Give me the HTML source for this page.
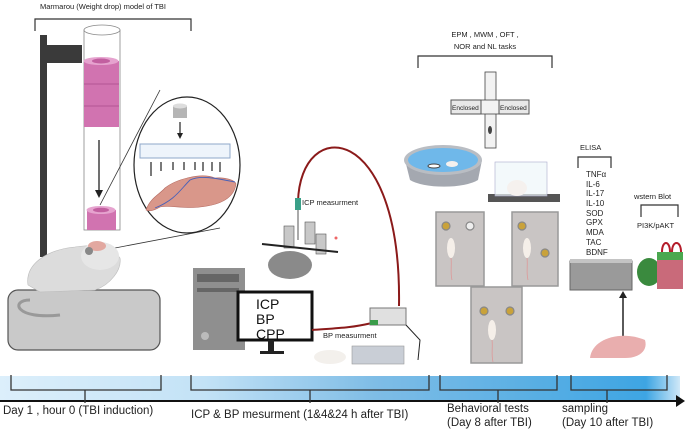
<!DOCTYPE html>
<html><head><meta charset="utf-8"><style>
html,body{margin:0;padding:0;background:#fff;width:685px;height:432px;overflow:hidden}
svg{display:block;font-family:"Liberation Sans",sans-serif}
</style></head><body>
<svg width="685" height="432" viewBox="0 0 685 432" xmlns="http://www.w3.org/2000/svg">
<defs>
<linearGradient id="band" x1="0" x2="1" y1="0" y2="0">
<stop offset="0" stop-color="#dceffb"/><stop offset="0.3" stop-color="#c3e2f6"/><stop offset="0.55" stop-color="#7fbde6"/><stop offset="0.95" stop-color="#3ea5e3"/><stop offset="1" stop-color="#cfe8f8"/>
</linearGradient>
</defs>
<rect x="0" y="376" width="680" height="25" fill="url(#band)"/>
<line x1="0" y1="401" x2="678" y2="401" stroke="#111" stroke-width="2"/>
<polygon points="676,395 685,401 676,407" fill="#111"/>
<g fill="none" stroke="#333" stroke-width="1.3">
<path d="M11,375 V390 H161 V375 M85,390 V403"/>
<path d="M191,375 V390 H429 V375 M310,390 V403"/>
<path d="M440,375 V390 H557 V375 M498,390 V403"/>
<path d="M571,375 V390 H667 V375 M607,390 V403"/>
</g>
<g font-size="11.5" fill="#222">
<text x="3" y="414">Day 1 , hour 0 (TBI induction)</text>
<text x="191" y="418">ICP &amp; BP mesurment (1&amp;4&amp;24 h after TBI)</text>
<text x="447" y="412">Behavioral tests</text>
<text x="447" y="426">(Day 8 after TBI)</text>
<text x="562" y="412">sampling</text>
<text x="562" y="426">(Day 10 after TBI)</text>
</g>
<text x="40" y="9" font-size="7.5" fill="#222">Marmarou (Weight drop) model of TBI</text>
<path d="M35,31 V19 H191 V31" fill="none" stroke="#333" stroke-width="1.2"/>
<rect x="40" y="35" width="7" height="222" fill="#3a3a3a"/>
<rect x="46" y="45" width="36" height="18" fill="#3a3a3a"/>
<rect x="84" y="30" width="36" height="200" fill="#fff" stroke="#888" stroke-width="0.8"/>
<ellipse cx="102" cy="30" rx="18" ry="5" fill="#fff" stroke="#888" stroke-width="0.8"/>
<rect x="84" y="61" width="35" height="66" fill="#d173b0"/>
<ellipse cx="101" cy="61" rx="17.5" ry="4" fill="#e6a3cf"/>
<ellipse cx="101" cy="61" rx="9" ry="2.5" fill="#c25fa0"/>
<line x1="84" y1="84" x2="119" y2="84" stroke="#b45593"/><line x1="84" y1="106" x2="119" y2="106" stroke="#b45593"/>
<line x1="99" y1="140" x2="99" y2="192" stroke="#222" stroke-width="1.3"/>
<polygon points="95,190 99,198 103,190" fill="#222"/>
<rect x="87" y="210" width="29" height="20" fill="#d173b0"/>
<ellipse cx="101" cy="210" rx="14.5" ry="4" fill="#e6a3cf"/><ellipse cx="101" cy="210" rx="8" ry="2.3" fill="#c25fa0"/>
<line x1="100" y1="205" x2="160" y2="90" stroke="#333" stroke-width="0.8"/>
<line x1="115" y1="248" x2="220" y2="228" stroke="#333" stroke-width="0.8"/>
<ellipse cx="187" cy="165" rx="53" ry="68" fill="#fff" stroke="#222" stroke-width="1.2"/>
<rect x="173" y="106" width="14" height="12" fill="#b5b5b5"/><ellipse cx="180" cy="106" rx="7" ry="2.5" fill="#ddd"/>
<line x1="180" y1="122" x2="180" y2="134" stroke="#222" stroke-width="1.2"/><polygon points="177,133 180,139 183,133" fill="#222"/>
<rect x="140" y="144" width="90" height="14" fill="#eef4fb" stroke="#8fa7c9"/>
<g stroke="#222" stroke-width="1.2" fill="#222">
<line x1="151" y1="162" x2="151" y2="176"/><line x1="161" y1="162" x2="161" y2="171"/><line x1="173" y1="162" x2="173" y2="170"/><line x1="184" y1="162" x2="184" y2="170"/><line x1="195" y1="162" x2="195" y2="170"/><line x1="203" y1="162" x2="203" y2="171"/><line x1="212" y1="162" x2="212" y2="171"/><line x1="220" y1="162" x2="220" y2="172"/>
</g>
<path d="M146,210 C150,198 160,194 165,188 C175,180 200,172 215,178 C225,177 235,180 236,184 C234,198 220,205 200,207 C185,209 170,205 160,207 C155,210 150,212 146,210Z" fill="#d9978a" stroke="#b46a61" stroke-width="0.6"/>
<path d="M155,208 C175,200 180,190 190,180 C200,175 215,178 235,182" fill="none" stroke="#4961b8" stroke-width="0.9"/>
<rect x="8" y="290" width="152" height="60" rx="10" fill="#c9c9c9" stroke="#555" stroke-width="1.2"/>
<path d="M30,300 C10,300 15,320 60,315" fill="none" stroke="#999" stroke-width="3"/>
<path d="M28,285 C25,265 45,250 75,247 C95,244 110,245 120,258 C122,270 110,285 95,290 L40,292Z" fill="#dcdcdc" stroke="#bbb" stroke-width="0.6"/>
<ellipse cx="100" cy="256" rx="19" ry="14" fill="#e6e6e6"/>
<ellipse cx="97" cy="246" rx="9" ry="5" fill="#e2a8a0"/>
<circle cx="89" cy="251" r="4" fill="#888"/>
<rect x="193" y="268" width="52" height="82" fill="#8f8f8f"/><rect x="197" y="274" width="42" height="8" fill="#666"/><rect x="197" y="288" width="42" height="4" fill="#666"/>
<circle cx="205" cy="336" r="4" fill="#bbb"/>
<rect x="238" y="292" width="74" height="48" fill="#fff" stroke="#111" stroke-width="3"/>
<rect x="268" y="340" width="6" height="12" fill="#222"/><rect x="260" y="351" width="24" height="3" fill="#222"/>
<g font-size="14" fill="#111"><text x="256" y="309">ICP</text><text x="256" y="324">BP</text><text x="256" y="339">CPP</text></g>
<path d="M312,330 C340,328 350,328 372,323" fill="none" stroke="#8b1a1a" stroke-width="2"/>
<text x="323" y="338" font-size="7.5" fill="#222">BP measurment</text>
<rect x="370" y="308" width="36" height="17" fill="#e0e0e0" stroke="#777"/><rect x="370" y="320" width="8" height="5" fill="#3a9c4a"/>
<ellipse cx="330" cy="357" rx="16" ry="7" fill="#f3f0ec"/>
<rect x="352" y="346" width="52" height="18" fill="#c9ced6" stroke="#999" stroke-width="0.6"/>
<path d="M406,325 L420,340 L418,360" fill="none" stroke="#222" stroke-width="1"/>
<path d="M298,202 C300,115 402,120 399,306" fill="none" stroke="#8b1a1a" stroke-width="2"/>
<rect x="295" y="198" width="6" height="12" fill="#3aa088"/><line x1="298" y1="210" x2="298" y2="240" stroke="#555"/>
<text x="302" y="205" font-size="7.5" fill="#222">ICP measurment</text>
<circle cx="336" cy="238" r="1.5" fill="#e66"/>
<g fill="#c8c8c8" stroke="#555" stroke-width="0.6">
<rect x="284" y="226" width="10" height="22"/><rect x="305" y="222" width="10" height="22"/><rect x="316" y="234" width="10" height="20"/>
</g>
<line x1="262" y1="244" x2="338" y2="252" stroke="#222" stroke-width="2"/>
<ellipse cx="290" cy="265" rx="22" ry="14" fill="#8a8a8a"/>
<text x="485" y="37" font-size="7.5" fill="#222" text-anchor="middle">EPM , MWM , OFT ,</text>
<text x="485" y="49" font-size="7.5" fill="#222" text-anchor="middle">NOR and NL tasks</text>
<path d="M418,68 V56 H552 V68" fill="none" stroke="#333" stroke-width="1.2"/>
<rect x="485" y="72" width="11" height="76" fill="#f2f2f2" stroke="#444" stroke-width="0.8"/>
<rect x="451" y="100" width="78" height="14" fill="#f2f2f2" stroke="#444" stroke-width="0.8"/>
<rect x="451" y="100" width="30" height="14" fill="#e8e8e8" stroke="#555"/><rect x="499" y="100" width="30" height="14" fill="#e8e8e8" stroke="#555"/>
<text x="452" y="110" font-size="6.5" fill="#222">Enclosed</text><text x="500" y="110" font-size="6.5" fill="#222">Enclosed</text>
<ellipse cx="490" cy="130" rx="2" ry="4" fill="#444"/>
<path d="M405,160 L410,180 A38,12 0 0 0 478,180 L482,160Z" fill="#a4a8b0"/>
<ellipse cx="443" cy="160" rx="39" ry="15" fill="#b9bdc3"/>
<ellipse cx="443" cy="160" rx="35" ry="12" fill="#6fb8ea"/>
<ellipse cx="434" cy="166" rx="6" ry="2" fill="#fff" stroke="#444"/>
<ellipse cx="452" cy="164" rx="6" ry="3" fill="#f5f1ee"/>
<path d="M488,194 L560,194 L560,202 L488,202Z" fill="#555"/>
<rect x="495" y="162" width="52" height="34" fill="#eef6fa" fill-opacity="0.7" stroke="#aac" stroke-width="0.6"/>
<ellipse cx="517" cy="188" rx="10" ry="8" fill="#f5f1ee"/>
<g fill="#c9c5c4" stroke="#999" stroke-width="1.5">
<rect x="436" y="212" width="48" height="74"/><rect x="512" y="212" width="46" height="74"/><rect x="471" y="287" width="51" height="76"/>
</g>
<g fill="#c9a23a" stroke="#888" stroke-width="1.2">
<circle cx="446" cy="226" r="4"/><circle cx="522" cy="226" r="4"/><circle cx="545" cy="253" r="4"/><circle cx="484" cy="311" r="4"/><circle cx="510" cy="311" r="4"/>
</g>
<circle cx="470" cy="226" r="4" fill="#eee" stroke="#888" stroke-width="1.2"/>
<g fill="#f5efe9"><ellipse cx="451" cy="248" rx="4" ry="10"/><ellipse cx="527" cy="248" rx="4" ry="10"/><ellipse cx="492" cy="330" rx="4" ry="10"/></g>
<g stroke="#d99" stroke-width="0.8" fill="none"><path d="M451,258 C452,266 450,272 452,280"/><path d="M527,258 C528,266 526,272 528,280"/><path d="M492,340 C493,348 491,354 493,362"/></g>
<text x="580" y="150" font-size="7.5" fill="#222">ELISA</text>
<path d="M578,168 V157 H611 V168" fill="none" stroke="#333" stroke-width="1.2"/>
<g font-size="8" fill="#222">
<text x="586" y="177">TNFα</text><text x="586" y="187">IL-6</text><text x="586" y="196">IL-17</text><text x="586" y="206">IL-10</text><text x="586" y="216">SOD</text><text x="586" y="225">GPX</text><text x="586" y="235">MDA</text><text x="586" y="245">TAC</text><text x="586" y="255">BDNF</text>
</g>
<rect x="570" y="261" width="62" height="29" fill="#9a9a9a" stroke="#666"/><rect x="570" y="259" width="62" height="4" fill="#c4c4c4"/>
<line x1="623" y1="340" x2="623" y2="297" stroke="#222" stroke-width="1.5"/><polygon points="619,298 623,291 627,298" fill="#222"/>
<path d="M590,358 C592,338 622,330 645,340 C648,350 640,358 625,358Z" fill="#e9aeae"/>
<text x="634" y="199" font-size="7.5" fill="#222">wstern Blot</text>
<path d="M641,217 V205 H678 V217" fill="none" stroke="#333" stroke-width="1.2"/>
<text x="637" y="228" font-size="7.5" fill="#222">PI3K/pAKT</text>
<ellipse cx="649" cy="272" rx="12" ry="14" fill="#3a8a3e"/>
<rect x="657" y="255" width="26" height="34" fill="#c96a7a"/><rect x="657" y="252" width="26" height="8" fill="#4aa84f"/>
<path d="M662,252 C662,240 670,240 670,252 M672,252 C672,240 681,240 681,252" fill="none" stroke="#b41c2a" stroke-width="2"/>
</svg>
</body></html>
